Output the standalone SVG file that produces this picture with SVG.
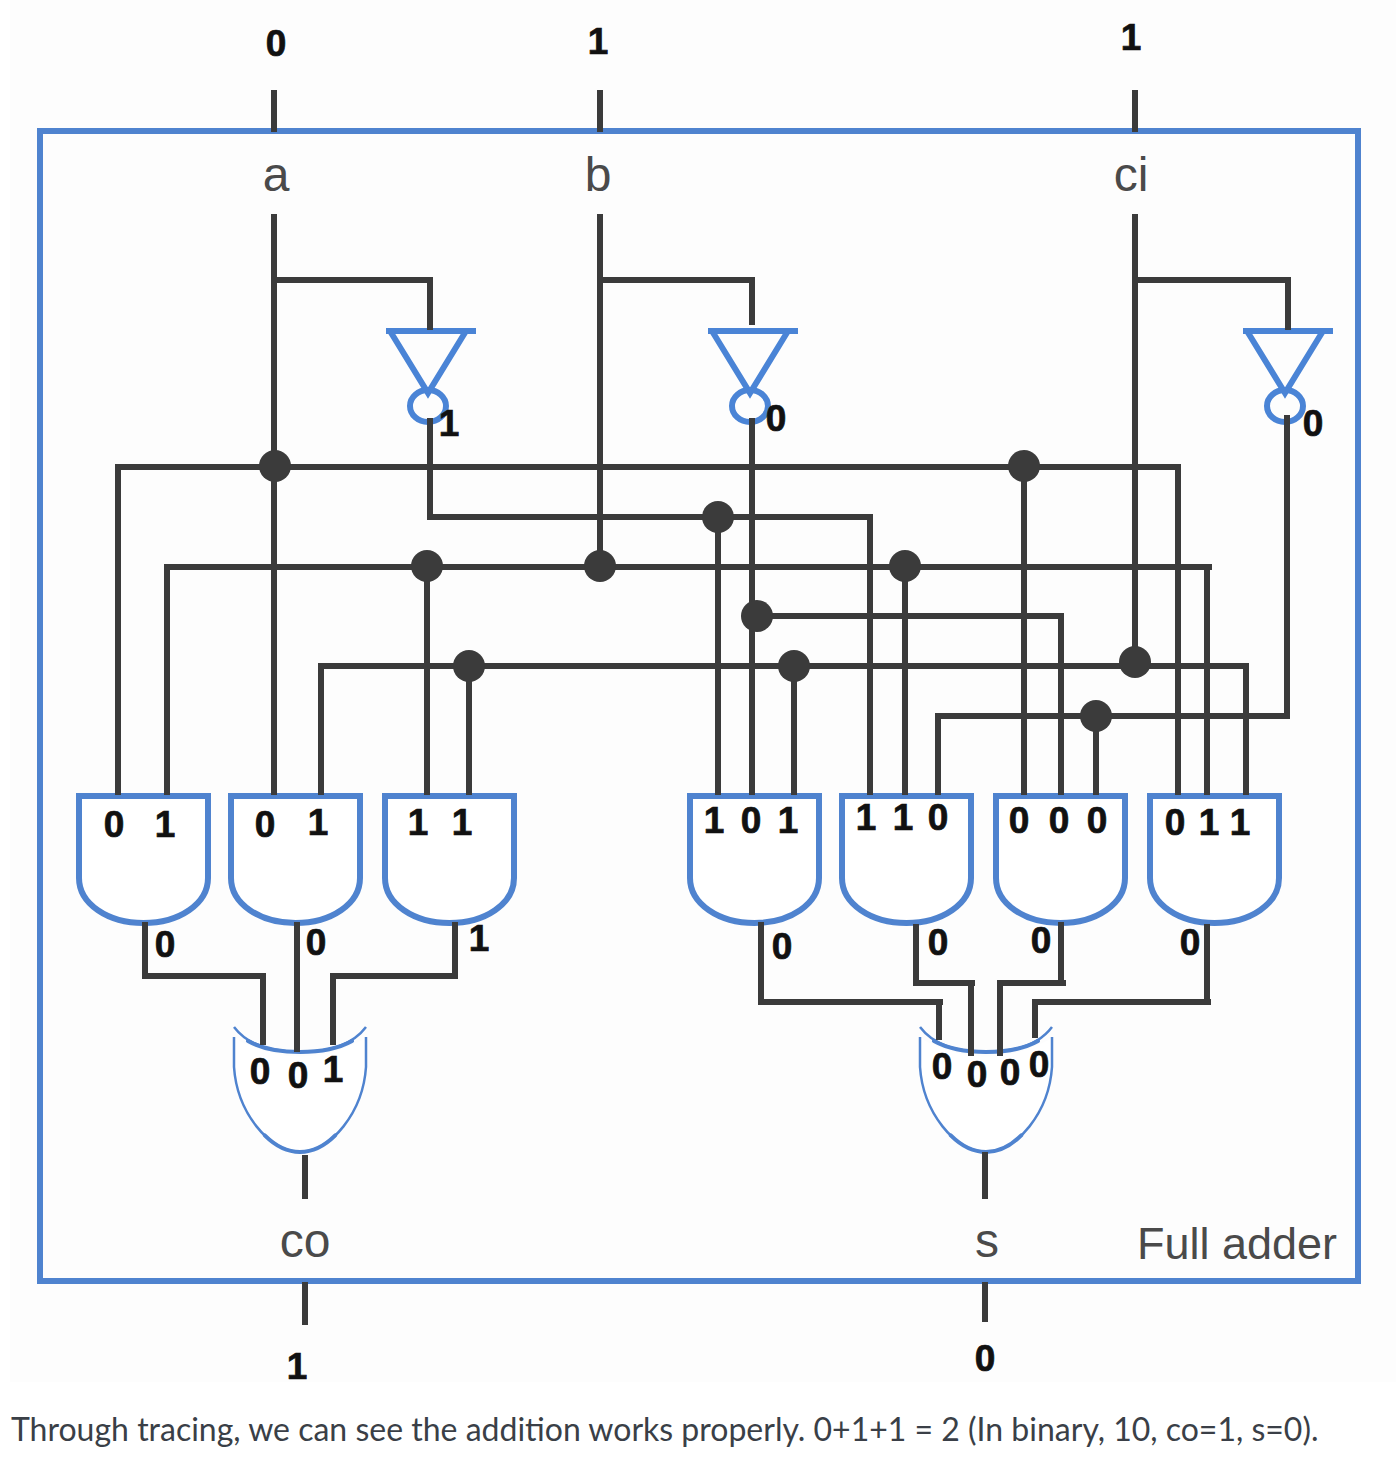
<svg xmlns="http://www.w3.org/2000/svg" width="1396" height="1466" viewBox="0 0 1396 1466">
<style>
.w{fill:none;stroke:#3b3b3b;stroke-width:6;stroke-linejoin:miter}
.d{fill:#3b3b3b}
.g{fill:#fff;stroke:#4f83cf;stroke-width:6}
.n{fill:none;stroke:#4a84d6;stroke-width:6}
.ot{fill:none;stroke:#4f83cf;stroke-width:2.5}
.ob{fill:none;stroke:#4f83cf;stroke-width:4;stroke-linecap:round}
.v{font-family:"Liberation Sans",Arial,sans-serif;font-weight:700;font-size:37px;fill:#111;stroke:#111;stroke-width:.7;text-anchor:middle}
.l{font-family:"Liberation Sans",Arial,sans-serif;font-size:48px;fill:#4a4a4a;text-anchor:middle}
.c{font-family:Lato,"Liberation Sans",sans-serif;font-size:32px;fill:#3a3f47}
</style>
<defs>
<path id="and" d="M0,0H129V82C129,108 100,127 64.500,127C29,127 0,108 0,82Z"/>
<g id="not">
<path class="n" d="M-42,0H48M-38,0L0,62L38,0"/>
<ellipse class="n" cx="0" cy="75" rx="18" ry="16" fill="#fff"/>
</g>
<g id="or">
<path d="M0,11V40C3,85 35,125 66,125C97,125 129,85 132,40V11Q66,48 0,11Z" fill="#fff"/>
<path class="ot" d="M0,10V40C3,85 35,125 66,125C97,125 129,85 132,40V10"/>
<path class="ob" d="M30.800,108.400C41,118.600 53.600,125 66,125C78.400,125 91,118.600 101.200,108.400"/>
<path class="ot" d="M0,0C15,20 40,25 66,25C92,25 117,20 132,0"/>
<path class="ob" d="M14,14C30,23 50,25 66,25C82,25 102,23 118,14"/>
</g>
</defs>
<rect width="1396" height="1466" fill="#fff"/>
<rect x="10" y="0" width="1386" height="1382" fill="#fdfdfd"/>

<g id="frame"><rect x="40" y="131" width="1318" height="1150" fill="none" stroke="#4f83cf" stroke-width="6"/></g>

<g id="gate-and-1"><use href="#and" class="g" x="79" y="796"/></g>
<g id="gate-and-2"><use href="#and" class="g" x="231" y="796"/></g>
<g id="gate-and-3"><use href="#and" class="g" x="385" y="796"/></g>
<g id="gate-and-4"><use href="#and" class="g" x="690" y="796"/></g>
<g id="gate-and-5"><use href="#and" class="g" x="842" y="796"/></g>
<g id="gate-and-6"><use href="#and" class="g" x="996" y="796"/></g>
<g id="gate-and-7"><use href="#and" class="g" x="1150" y="796"/></g>
<g id="gate-or-co"><use href="#or" x="234" y="1027"/></g>
<g id="gate-or-s"><use href="#or" x="920" y="1027"/></g>
<g id="gate-not-a"><use href="#not" x="428" y="331"/></g>
<g id="gate-not-b"><use href="#not" x="750" y="331"/></g>
<g id="gate-not-ci"><use href="#not" x="1285" y="331"/></g>

<g id="connectors">
<path class="w" d="M274,90V132M274,214V795M274,280H430V330"/>
<path class="w" d="M600,90V132M600,214V566M600,280H752V325"/>
<path class="w" d="M1135,90V132M1135,214V662M1135,280H1288V330"/>
<path class="w" d="M118,795V467H1178V795"/>
<path class="w" d="M167,795V567H1212M1207,567V795"/>
<path class="w" d="M321,795V666H1246V795"/>
<path class="w" d="M430,418V517H870V795"/>
<path class="w" d="M752,418V795M757,616H1061V795"/>
<path class="w" d="M1287,415V716H938V795"/>
<path class="w" d="M718,517V795M427,566V795M469,666V795M794,666V795M905,566V795M1024,466V795M1096,716V795"/>
<path class="w" d="M145,922V976H263V1045"/>
<path class="w" d="M297,922V1052"/>
<path class="w" d="M455,922V976H333V1045"/>
<path class="w" d="M761,922V1002H943M939,1002V1040"/>
<path class="w" d="M916,924V983H975M971,983V1056"/>
<path class="w" d="M1061,922V983H1066M1061,983H1000V1056"/>
<path class="w" d="M1207,924V1002H1211M1207,1002H1035V1038"/>
<path class="w" d="M305,1155V1199M305,1282V1325M985,1152V1199M985,1282V1322"/>
<g class="d">
<circle cx="275" cy="466" r="16"/><circle cx="1024" cy="466" r="16"/><circle cx="718" cy="517" r="16"/>
<circle cx="427" cy="566" r="16"/><circle cx="600" cy="566" r="16"/><circle cx="905" cy="566" r="16"/>
<circle cx="757" cy="616" r="16"/><circle cx="469" cy="666" r="16"/><circle cx="794" cy="666" r="16"/>
<circle cx="1135" cy="662" r="16"/><circle cx="1096" cy="716" r="16"/>
</g>
</g>

<g id="labels">
<text class="l" x="276" y="191">a</text>
<text class="l" x="598" y="191">b</text>
<text class="l" x="1131" y="191">ci</text>
<text class="l" x="305" y="1257">co</text>
<text class="l" x="987" y="1257">s</text>
<text class="l" x="1237" y="1259" style="font-size:45px">Full adder</text>
</g>
<g id="values">
<text class="v" x="276" y="56">0</text><text class="v" x="598" y="54">1</text><text class="v" x="1131" y="50">1</text>
<text class="v" x="114" y="837">0</text><text class="v" x="165" y="837">1</text>
<text class="v" x="265" y="837">0</text><text class="v" x="318" y="835">1</text>
<text class="v" x="418" y="835">1</text><text class="v" x="462" y="835">1</text>
<text class="v" x="714" y="833">1</text><text class="v" x="751" y="833">0</text><text class="v" x="788" y="833">1</text>
<text class="v" x="866" y="830">1</text><text class="v" x="903" y="830">1</text><text class="v" x="938" y="830">0</text>
<text class="v" x="1019" y="833">0</text><text class="v" x="1059" y="833">0</text><text class="v" x="1097" y="833">0</text>
<text class="v" x="1175" y="835">0</text><text class="v" x="1209" y="835">1</text><text class="v" x="1240" y="835">1</text>
<text class="v" x="165" y="957">0</text><text class="v" x="316" y="955">0</text><text class="v" x="479" y="951">1</text>
<text class="v" x="782" y="959">0</text><text class="v" x="938" y="955">0</text><text class="v" x="1041" y="953">0</text><text class="v" x="1190" y="955">0</text>
<text class="v" x="260" y="1084">0</text><text class="v" x="298" y="1088">0</text><text class="v" x="333" y="1082">1</text>
<text class="v" x="942" y="1079">0</text><text class="v" x="977" y="1087">0</text><text class="v" x="1010" y="1085">0</text><text class="v" x="1039" y="1077">0</text>
<text class="v" x="297" y="1379">1</text><text class="v" x="985" y="1371">0</text>
<text class="v" x="449" y="436">1</text><text class="v" x="776" y="431">0</text><text class="v" x="1313" y="436">0</text>
</g>
<text id="caption" class="c" x="11" y="1441">Through tracing, we can see the addition works properly. 0+1+1 = 2 (In binary, 10, co=1, s=0).</text>
</svg>
